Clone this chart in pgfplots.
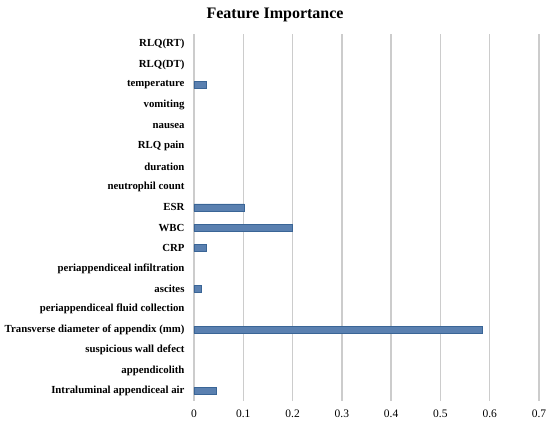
\documentclass[border=0pt]{standalone}
\usepackage{pgfplots}
\pgfplotsset{compat=1.18}
\usepackage{fontspec}
\setmainfont{Liberation Serif}
\definecolor{barfill}{HTML}{5A80B0}
\definecolor{baredge}{HTML}{3A6596}
\definecolor{gridc}{HTML}{CCCCCC}
\begin{document}
\begin{tikzpicture}[x=1pt,y=1pt]
\useasboundingbox (0,0) rectangle (550,423);
\begin{axis}[
  at={(194pt,22pt)}, anchor=south west,
  scale only axis, width=345pt, height=367pt,
  xbar, bar width=7pt,
  xmin=0, xmax=0.7,
  ymin=-0.5, ymax=17.5,
  xtick={0,0.1,...,0.7},
  ytick={0,...,17},
  yticklabels={Intraluminal appendiceal air, appendicolith, suspicious wall defect, Transverse diameter of appendix (mm), periappendiceal fluid collection, ascites, periappendiceal infiltration, CRP, WBC, ESR, neutrophil count, duration, RLQ pain, nausea, vomiting, temperature, RLQ(DT), RLQ(RT)},
  yticklabel style={font=\fontsize{10.8}{12}\selectfont\bfseries, xshift=-6pt},
  xticklabel style={font=\fontsize{11.5}{13}\selectfont, yshift=-5pt},
  /pgf/number format/assume math mode=true,
  xticklabel={\pgfmathprintnumber[fixed,precision=1]{\tick}},
  axis line style={draw=none},
  major tick length=0pt,
  xmajorgrids, major grid style={gridc, line width=1.4pt},
  title={Feature Importance},
  title style={font=\fontsize{16}{18}\selectfont\bfseries, at={(0.235,1)}, yshift=3pt},
  clip=false,
]
\addplot[fill=barfill, draw=baredge, line width=0.6pt] coordinates {
  (0.045,0) (0.584,3) (0.014,5) (0.024,7) (0.199,8) (0.102,9) (0.024,15)
};
\end{axis}
\end{tikzpicture}
\end{document}
